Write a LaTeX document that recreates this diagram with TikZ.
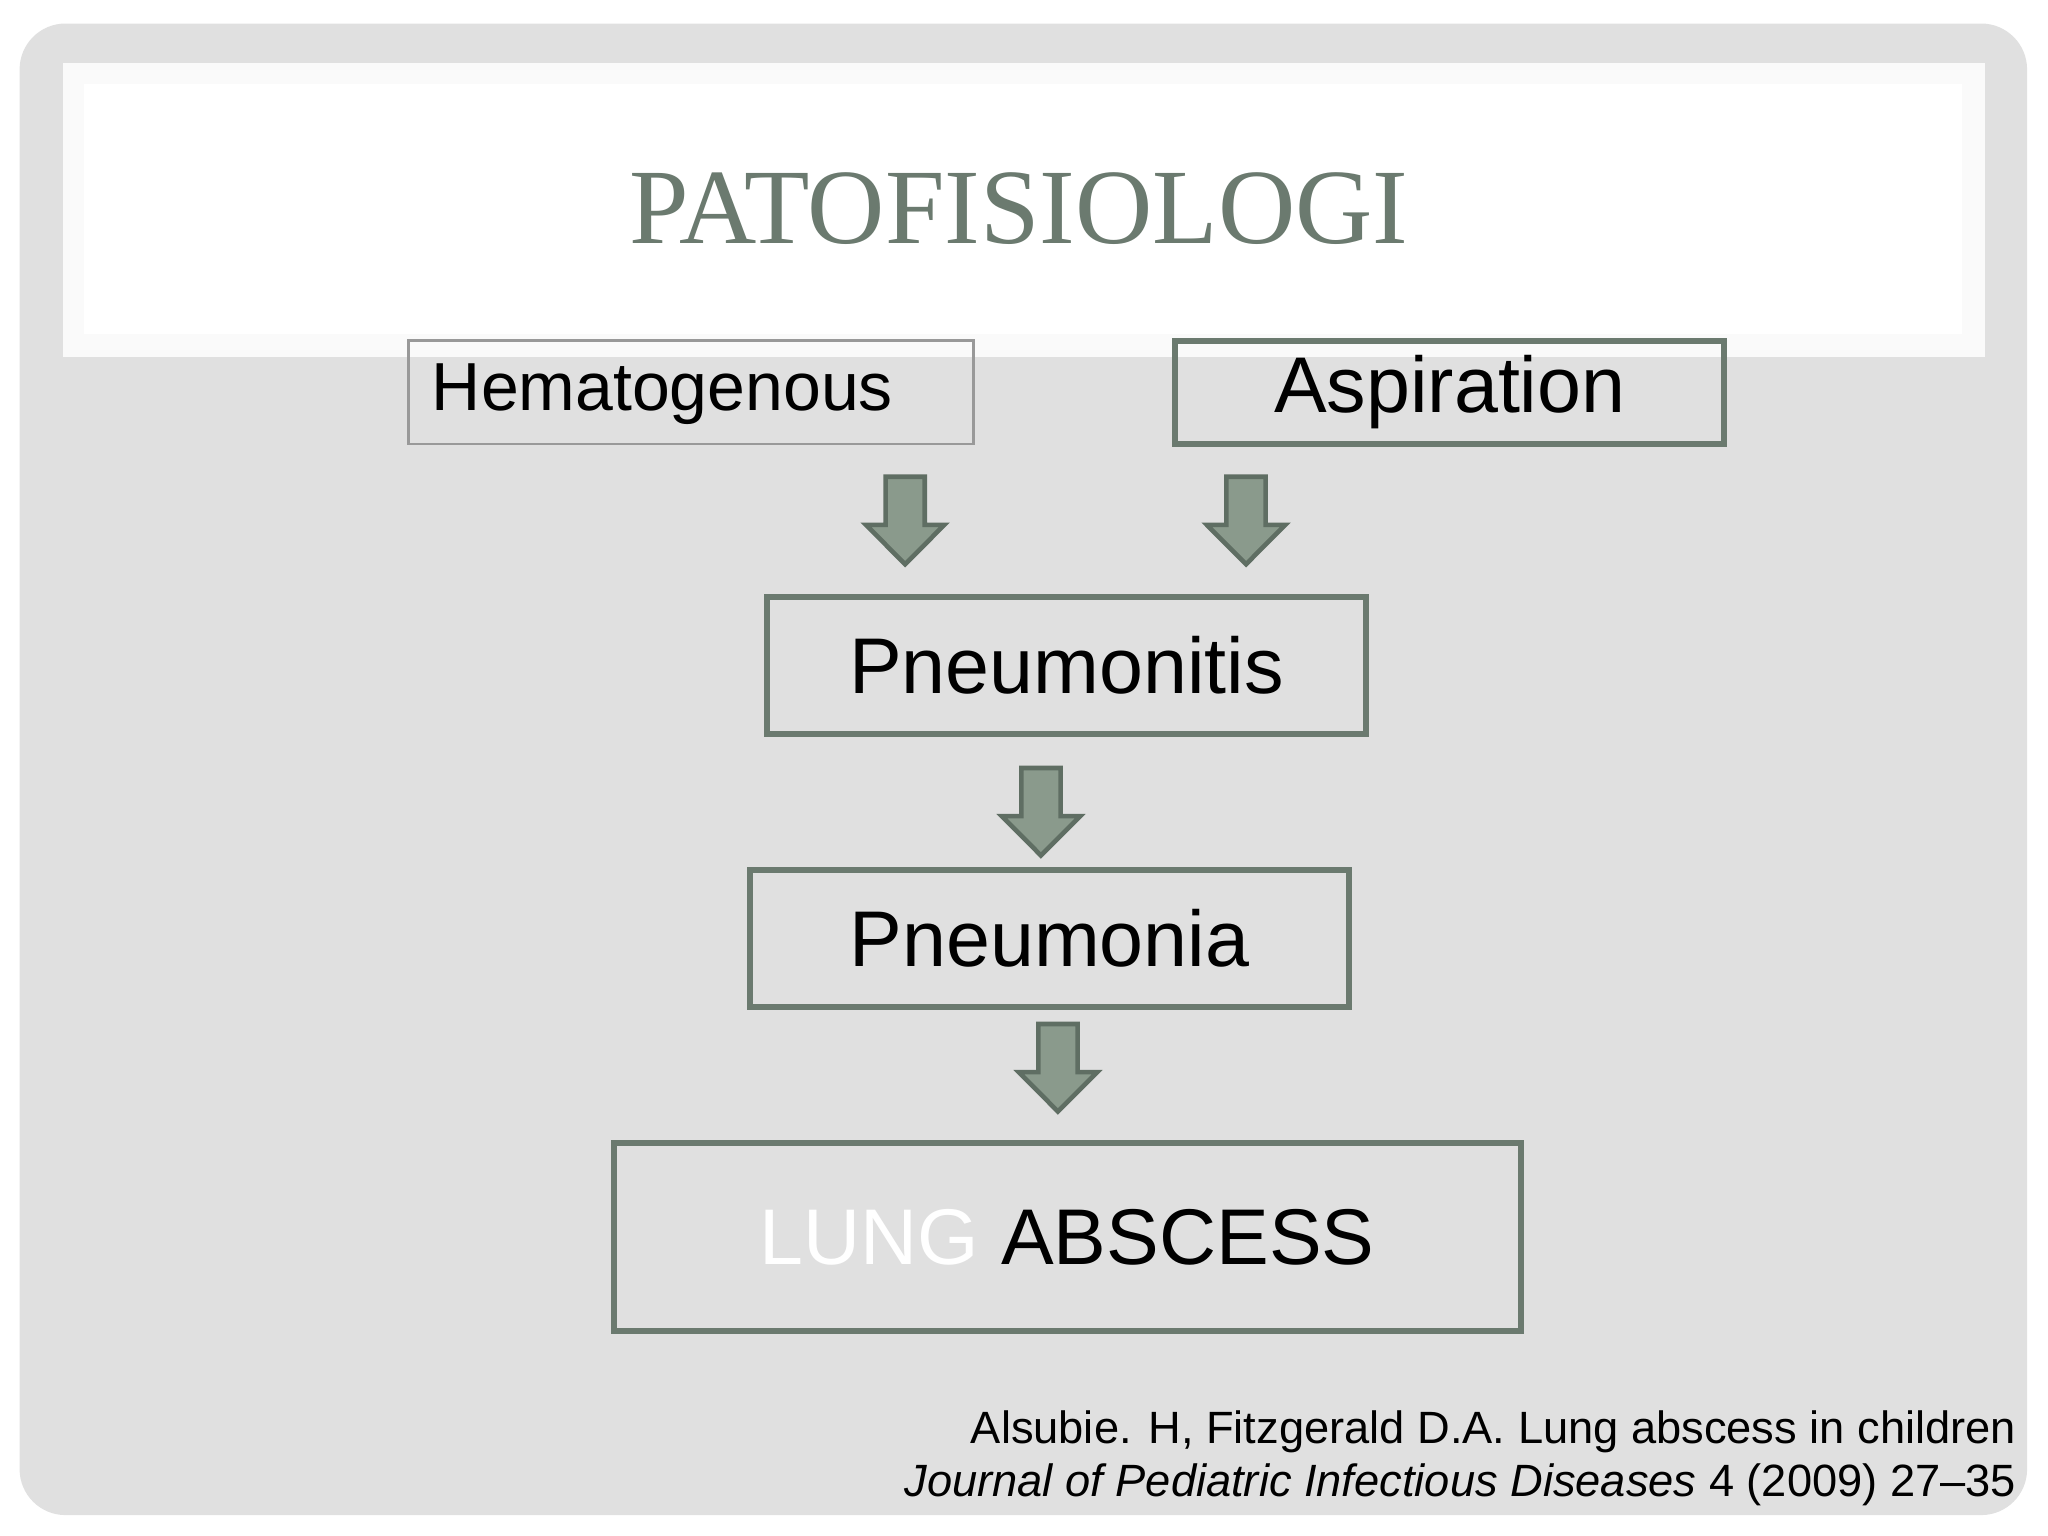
\documentclass[tikz,border=0pt]{standalone}
\usepackage{fontspec}
\setmainfont{Liberation Sans}
\newfontfamily\seriff{Liberation Serif}
\definecolor{bg}{HTML}{E0E0E0}
\definecolor{tgreen}{HTML}{6B7A6F}
\definecolor{afill}{HTML}{8A9A8C}
\definecolor{aline}{HTML}{5F6E63}
\begin{document}
\begin{tikzpicture}[x=0.01cm,y=-0.01cm,
  box/.style={draw=tgreen,line width=1.3pt,inner sep=0pt,font=\fontsize{17.2}{20}\selectfont},
  barrow/.style={fill=afill,draw=aline,line width=1pt}]
\useasboundingbox (0,0) rectangle (1568,1176);
\fill[white] (0,0) rectangle (1568,1176);
\fill[bg,rounded corners=10] (15,18) rectangle (1552,1160);
\fill[white!85!bg] (48,48) rectangle (1520,273);
\fill[white] (64,64) rectangle (1502,256);
\node[text=tgreen,font=\seriff\fontsize{23.3}{28}\selectfont] (title) at (780,160) {PATOFISIOLOGI};
\node[draw=gray!80,line width=0.6pt,minimum width=4.32cm,minimum height=0.79cm,inner sep=0pt] (hem) at (529,300.5) {};
\node[anchor=west,font=\fontsize{14.8}{18}\selectfont,inner sep=0pt] (hemt) at (330,302) {Hematogenous};
\node[box,minimum width=4.2cm,minimum height=0.79cm] (asp) at (1110,300.5) {Aspiration};
\node[box,minimum width=4.59cm,minimum height=1.05cm] (pn1) at (816.5,509.5) {Pneumonitis};
\node[box,minimum width=4.59cm,minimum height=1.05cm] (pn2) at (803.5,718.5) {Pneumonia};
\node[box,minimum width=6.94cm,minimum height=1.44cm] (la) at (817,947) {\textcolor{white}{LUNG} ABSCESS};
\foreach \x/\yt/\yb in {693/365/432, 954/365/432, 797/588/655, 810/784/851}{
  \pgfmathsetmacro\ym{\yt+0.55*(\yb-\yt)}
  \draw[barrow] (\x-15,\yt) -- (\x+15,\yt) -- (\x+15,\ym) -- (\x+30,\ym) -- (\x,\yb) -- (\x-30,\ym) -- (\x-15,\ym) -- cycle;
}
\node[anchor=east,font=\fontsize{9.85}{12}\selectfont] (c1) at (1556,1096) {Alsubie. H, Fitzgerald D.A. Lung abscess in children};
\node[anchor=east,font=\fontsize{9.85}{12}\selectfont] (c2) at (1556,1137) {\textit{Journal of Pediatric Infectious Diseases} 4 (2009) 27–35};
\end{tikzpicture}
\end{document}
